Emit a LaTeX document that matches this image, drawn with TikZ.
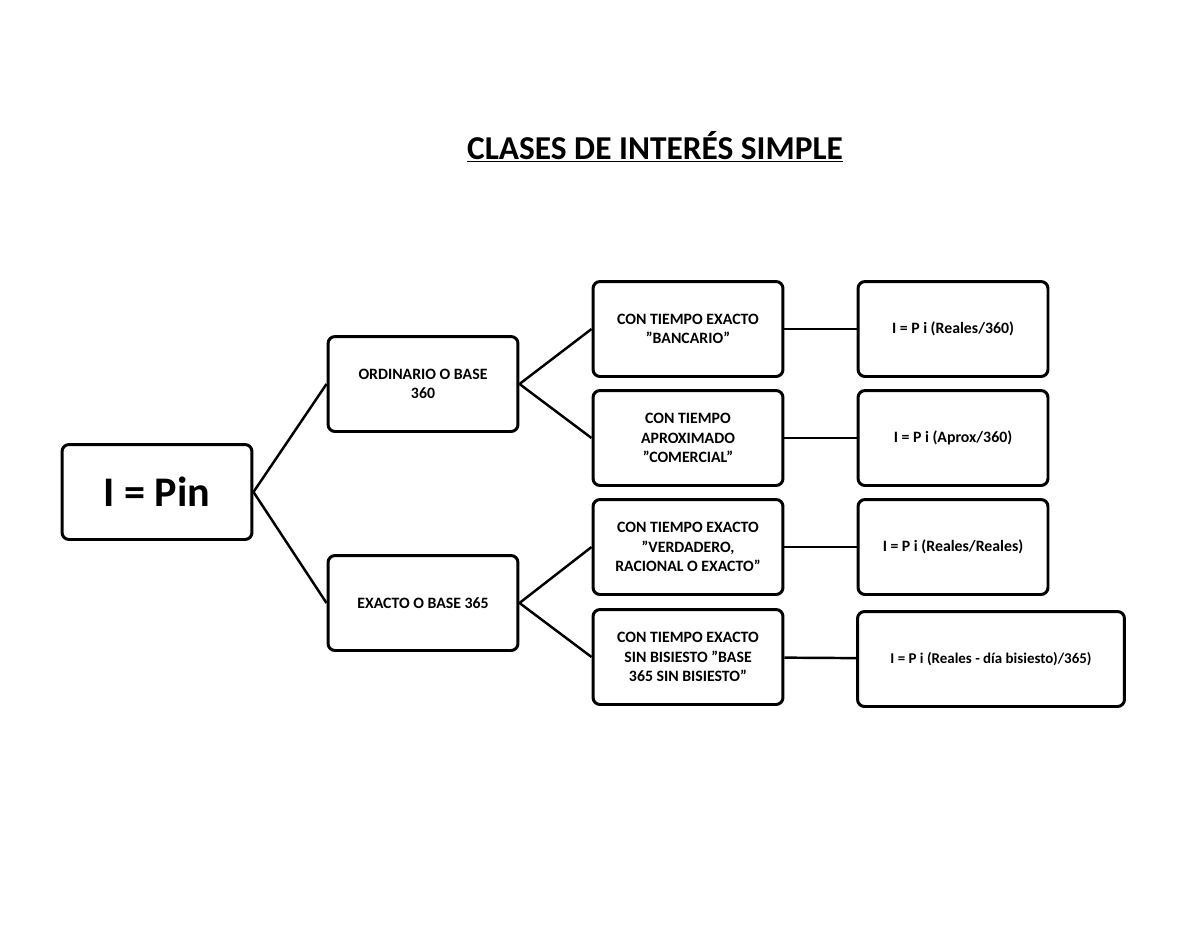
\documentclass[tikz,border=0pt]{standalone}
\usepackage{fontspec}
\setmainfont{Carlito}
\usetikzlibrary{positioning}
\tikzstyle{box}=[rectangle, rounded corners=4pt, align=center, draw=black,
line width=1.7pt, minimum width=3.8cm, minimum height=1.9cm, font=\bfseries\fontsize{9}{11}\selectfont]
\tikzstyle{link}=[line width=1.4pt, draw=black]
\begin{document}
\begin{tikzpicture}[x=0.02cm, y=-0.02cm]
  \useasboundingbox (0,0) rectangle (1200,927);
  \node(title) at (655,147) {\bfseries\fontsize{19}{22}\selectfont\underline{CLASES DE INTERÉS SIMPLE}};
  \node(pin) [box, font=\bfseries\fontsize{24}{28}\selectfont] at (157,492) {I = Pin};
  \node(ord) [box] at (423,384) {ORDINARIO O BASE\\360};
  \node(exa) [box] at (423,603) {EXACTO O BASE 365};
  \node(banc) [box] at (688,329) {CON TIEMPO EXACTO\\"BANCARIO"};
  \node(come) [box] at (688,438) {CON TIEMPO\\APROXIMADO\\"COMERCIAL"};
  \node(verd) [box] at (688,547) {CON TIEMPO EXACTO\\"VERDADERO,\\RACIONAL O EXACTO"};
  \node(sinb) [box] at (688,657) {CON TIEMPO EXACTO\\SIN BISIESTO "BASE\\365 SIN BISIESTO"};
  \node(fBanc) [box] at (953,329) {I = P i (Reales/360)};
  \node(fCome) [box] at (953,438) {I = P i (Aprox/360)};
  \node(fVerd) [box] at (953,547) {I = P i (Reales/Reales)};
  \node(fSinb) [box, minimum width=5.34cm, font=\bfseries\fontsize{8.5}{10}\selectfont] at (991,659) {I = P i (Reales - día bisiesto)/365)};
  \draw [link] (pin.east) -- (ord.west);
  \draw [link] (pin.east) -- (exa.west);
  \draw [link] (ord.east) -- (banc.west);
  \draw [link] (ord.east) -- (come.west);
  \draw [link] (exa.east) -- (verd.west);
  \draw [link] (exa.east) -- (sinb.west);
  \draw [link] (banc) -- (fBanc);
  \draw [link] (come) -- (fCome);
  \draw [link] (verd) -- (fVerd);
  \draw [link] (sinb) -- (fSinb);
\end{tikzpicture}
\end{document}
